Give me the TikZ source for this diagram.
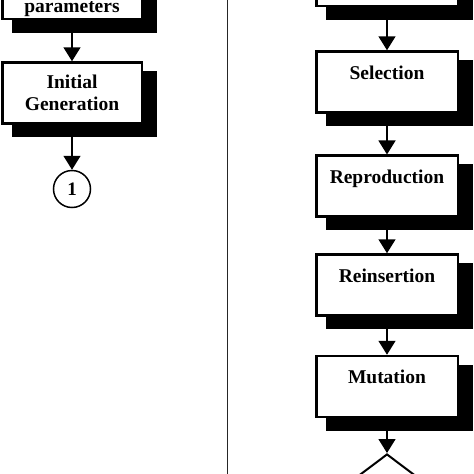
\documentclass[tikz,border=0pt]{standalone}
\usepackage{fontspec}
\setmainfont{Liberation Serif}
\usetikzlibrary{arrows.meta,shapes.geometric,backgrounds}
\newcommand\boxshadow[1]{\fill[black] ([shift={(11,10)}]#1.north west) rectangle ([shift={(14,12.5)}]#1.south east);}
\begin{document}
\begin{tikzpicture}[x=1pt,y=-1pt,
  box/.style={draw=black, fill=white, line width=2.5pt, rectangle, minimum height=61pt, inner sep=0pt, font=\bfseries\fontsize{19.5}{22}\selectfont, align=center},
  rbox/.style={box, minimum width=141.5pt},
  lbox/.style={box, minimum width=139.5pt},
  topt/.style={text height=27.75pt, text depth=33.25pt},
  conn/.style={line width=1.5pt, -{Triangle[width=17pt,length=14pt]}},
  divider/.style={line width=1.3pt, black!85},
]
\begin{pgfonlayer}{background}
\fill[white] (0,0) rectangle (474,474);
\end{pgfonlayer}
\useasboundingbox (0,0) rectangle (474,474);

% left column
\node[lbox, text height=54.25pt, text depth=6.75pt] (ltop) at (72,-11.75) {parameters};
\node[lbox] (init) at (72,93) {Initial\\Generation};
\node[circle, draw, line width=1.5pt, minimum size=37pt, inner sep=0pt, font=\bfseries\fontsize{19}{19}\selectfont] (c1) at (72,189) {1};

% right column
\node[rbox] (rtop) at (387,-24.75) {};
\node[rbox, topt] (sel) at (387,82) {Selection};
\node[rbox, topt] (rep) at (387,186.2) {Reproduction};
\node[rbox, topt] (rein) at (387,285) {Reinsertion};
\node[rbox, topt] (mut) at (387,386.5) {Mutation};
\node[diamond, draw, line width=2pt, minimum width=106pt, minimum height=80pt, inner sep=0pt, anchor=north] (dec) at (387,453) {};

\begin{pgfonlayer}{background}
\boxshadow{ltop}
\boxshadow{init}
\boxshadow{rtop}
\boxshadow{sel}
\boxshadow{rep}
\boxshadow{rein}
\boxshadow{mut}
\end{pgfonlayer}

% connectors
\draw[conn] (ltop.south) -- (init.north);
\draw[conn] (init.south) -- (c1.north);
\draw[conn] (rtop.south) -- (sel.north);
\draw[conn] (sel.south) -- (rep.north);
\draw[conn] (rep.south) -- (rein.north);
\draw[conn] (rein.south) -- (mut.north);
\draw[conn] (mut.south) -- (dec.north);

% divider
\coordinate (dtop) at (227.5,0);
\coordinate (dbot) at (227.5,474);
\draw[divider] (dtop) -- (dbot);
\end{tikzpicture}
\end{document}
